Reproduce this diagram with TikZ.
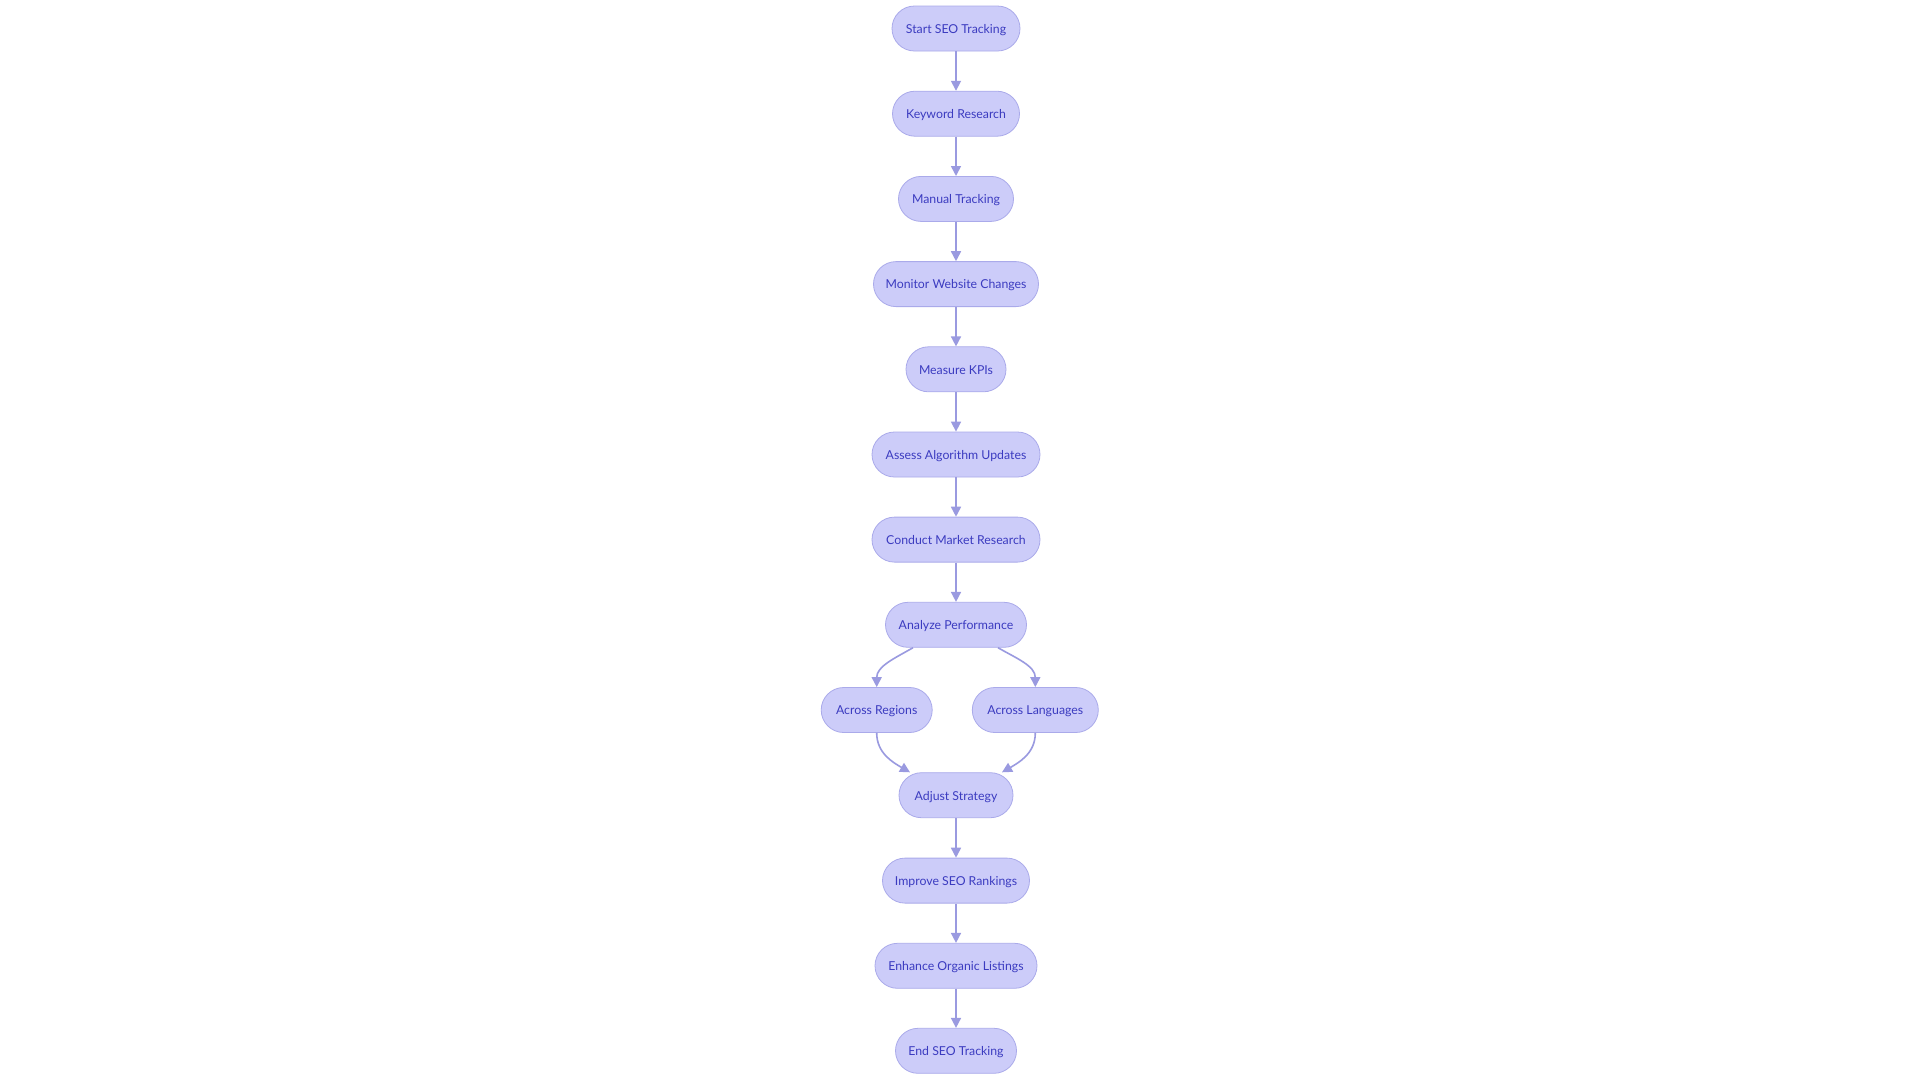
\documentclass[tikz,border=0pt]{standalone}
\usepackage{fontspec}
\setmainfont{Lato}
\usetikzlibrary{arrows.meta}
\definecolor{nodefill}{HTML}{CCCCF9}
\definecolor{nodeline}{HTML}{AAAAEA}
\definecolor{nodetext}{HTML}{3B3BC0}
\definecolor{edgecol}{HTML}{9A9AE0}
\tikzset{
  box/.style={draw=nodeline, fill=nodefill, line width=0.8pt, rounded corners=22.5pt,
    minimum height=45pt, inner sep=0pt, text height=12pt, text depth=2.4pt,
    text=nodetext, font=\fontsize{12.3}{14}\selectfont},
  edge/.style={draw=edgecol, line width=1.6pt, -{Triangle[length=10pt,width=10pt]}}
}
\begin{document}
\begin{tikzpicture}[x=1pt,y=-1pt]
\useasboundingbox[fill=white] (0,0) rectangle (1920,1080);
\node[box, minimum width=128pt] (n1) at (956,28.5) {Start SEO Tracking};
\node[box, minimum width=127pt] (n2) at (956,113.7) {Keyword Research};
\node[box, minimum width=115pt] (n3) at (956,198.9) {Manual Tracking};
\node[box, minimum width=165pt] (n4) at (956,284.1) {Monitor Website Changes};
\node[box, minimum width=100pt] (n5) at (956,369.3) {Measure KPIs};
\node[box, minimum width=168pt] (n6) at (956,454.5) {Assess Algorithm Updates};
\node[box, minimum width=168pt] (n7) at (956,539.6) {Conduct Market Research};
\node[box, minimum width=141pt] (n8) at (956,624.8) {Analyze Performance};
\node[box, minimum width=111pt] (n9) at (876.7,710) {Across Regions};
\node[box, minimum width=126pt] (n10) at (1035.3,710) {Across Languages};
\node[box, minimum width=114pt] (n11) at (956,795.2) {Adjust Strategy};
\node[box, minimum width=147pt] (n12) at (956,880.6) {Improve SEO Rankings};
\node[box, minimum width=162pt] (n13) at (956,965.8) {Enhance Organic Listings};
\node[box, minimum width=121pt] (n14) at (956,1050.8) {End SEO Tracking};
\foreach \a/\b in {n1/n2,n2/n3,n3/n4,n4/n5,n5/n6,n6/n7,n7/n8,n11/n12,n12/n13,n13/n14}
  \draw[edge] (\a) -- (\b);
\draw[edge] ([xshift=-43pt]n8.south) to[out=-150,in=90] (n9.north);
\draw[edge] ([xshift=42pt]n8.south) to[out=-30,in=90] (n10.north);
\draw[edge] (n9.south) to[out=-90,in=150] ([xshift=-46pt]n11.north);
\draw[edge] (n10.south) to[out=-90,in=30] ([xshift=46pt]n11.north);
\end{tikzpicture}
\end{document}
